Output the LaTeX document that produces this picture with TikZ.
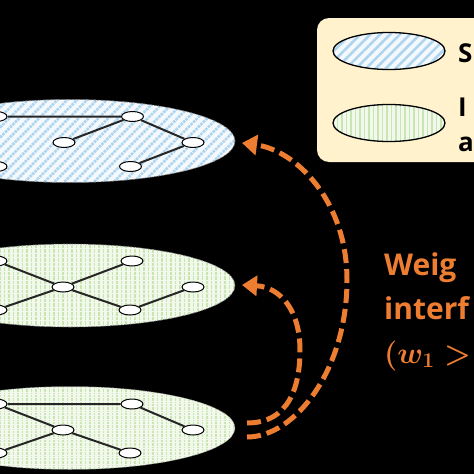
\documentclass[tikz,border=0pt]{standalone}
\usepackage{fix-cm}
\usepackage{fontspec}
\setmainfont{Open Sans}
\usetikzlibrary{arrows.meta,shapes.geometric,patterns.meta}
\definecolor{wtorange}{HTML}{ED7D31}
\definecolor{keyfill}{HTML}{FFF2CC}
\definecolor{sline}{HTML}{AED4EE}
\definecolor{sbg}{HTML}{F4F9FD}
\definecolor{gline}{HTML}{C8E6B2}
\definecolor{gbg}{HTML}{F2F9EC}
\tikzstyle{layer}=[ellipse,draw=black!55,densely dotted,line width=0.6pt,inner sep=0pt,minimum width=330pt,minimum height=83pt]
\tikzstyle{single}=[layer,preaction={fill=sbg},pattern={Lines[angle=45,distance=7pt,line width=2.6pt]},pattern color=sline]
\tikzstyle{inter}=[layer,preaction={fill=gbg},pattern={Lines[angle=90,distance=4.5pt,line width=1.8pt]},pattern color=gline]
\tikzstyle{keyshape}=[draw=black,solid,line width=1.3pt,minimum width=112pt,minimum height=37pt]
\tikzstyle{vertex}=[ellipse,draw,fill=white,line width=1pt,inner sep=0pt,minimum width=22pt,minimum height=10pt]
\tikzstyle{link}=[draw=black!85,line width=2pt]
\tikzstyle{hop}=[draw=wtorange,line width=5pt,dash pattern=on 14pt off 6pt,-{Triangle[width=20pt,length=15pt]}]
\tikzstyle{caption}=[text=wtorange,font=\bfseries\boldmath\fontsize{30}{44}\selectfont,anchor=base west,inner sep=0pt]
\tikzstyle{keytext}=[font=\bfseries\fontsize{26}{35}\selectfont,anchor=base west,inner sep=0pt]

\begin{document}
\begin{tikzpicture}[x=1pt,y=-1pt]
  \useasboundingbox (0,0) rectangle (474,474);
  \fill[black] (0,0) rectangle (474,474);

  % the three layers
  \node[single] (top) at (70,141) {};
  \node[inter]  (mid) at (70,285.5) {};
  \node[inter]  (bot) at (70,428) {};

  % top layer
  \node[vertex] (tA) at (-4,116.5) {};
  \node[vertex] (tB) at (132.5,116.5) {};
  \node[vertex] (tC) at (64,142.5) {};
  \node[vertex] (tD) at (193,142.5) {};
  \node[vertex] (tE) at (130.5,166.5) {};
  \node[vertex] (tF) at (-4,166.5) {};
  \path[link] (tA) -- (tB) (tB) -- (tC) (tB) -- (tD) (tD) -- (tE);

  % middle layer
  \node[vertex] (mG) at (-4,261) {};
  \node[vertex] (mH) at (132,261) {};
  \node[vertex] (mI) at (63,287) {};
  \node[vertex] (mJ) at (193,287) {};
  \node[vertex] (mK) at (130,310) {};
  \node[vertex] (mL) at (-4,310) {};
  \path[link] (mG) -- (mI) (mI) -- (mH) (mL) -- (mI)
    (mI) -- (mK) (mK) -- (mJ);

  % bottom layer
  \node[vertex] (bM) at (-4,404) {};
  \node[vertex] (bN) at (132,404) {};
  \node[vertex] (bO) at (63,430) {};
  \node[vertex] (bP) at (193,430) {};
  \node[vertex] (bQ) at (130,453) {};
  \node[vertex] (bR) at (-4,453) {};
  \path[link] (bM) -- (bN) (bN) -- (bP) (bM) -- (bO)
    (bO) -- (bR) (bO) -- (bQ);

  % weighted arrows
  \coordinate (outS) at (247,437);
  \coordinate (inS)  at (247,423);
  \coordinate (topE) at (242,143);
  \coordinate (midE) at (242,285);
  \draw[hop] (outS) .. controls (295,437) and (347,370) .. (347,280)
    .. controls (347,200) and (295,150) .. (topE);
  \draw[hop] (inS) .. controls (290,423) and (300,385) .. (300,350)
    .. controls (300,310) and (280,287) .. (midE);

  % legend
  \fill[keyfill,rounded corners=12pt] (317,18) rectangle (500,162);
  \node[single,keyshape] (keyS) at (389,51) {};
  \node[inter,keyshape]  (keyI) at (389,123) {};
  \node[keytext] (keyS text) at (458,62) {S};
  \node[keytext] (keyI text) at (458,116) {I};
  \node[keytext] (keyI text2) at (458,151) {a};

  % caption
  \node[caption] (cap1) at (384,275) {Weig};
  \node[caption] (cap2) at (384,319) {interf};
  \node[caption] (cap3) at (384,363) {$(w_1 >$};
\end{tikzpicture}
\end{document}
